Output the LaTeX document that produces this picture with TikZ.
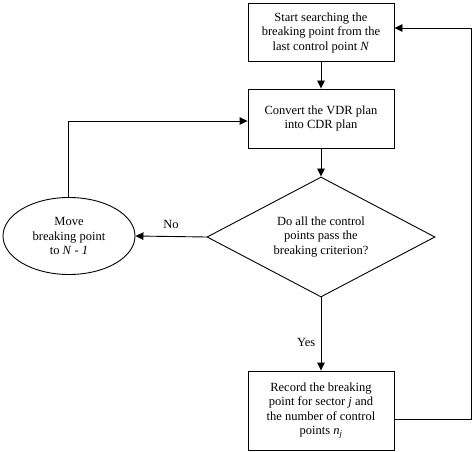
\documentclass[tikz,border=0pt]{standalone}
\usepackage{fontspec}
\setmainfont{Liberation Serif}
\usetikzlibrary{arrows.meta,shapes.geometric}
\begin{document}
\begin{tikzpicture}[x=1pt,y=-1pt,
  every node/.style={font=\fontsize{12.5}{14.5}\selectfont},
  procbox/.style={draw,line width=0.9pt,minimum width=146pt,align=center,inner sep=0pt},
  decision/.style={draw,line width=0.9pt,diamond,aspect=1.9,minimum width=228pt,minimum height=120pt,align=center,inner sep=0pt},
  oval/.style={draw,line width=0.9pt,ellipse,minimum width=132pt,minimum height=77pt,align=center,inner sep=0pt},
  arr/.style={line width=0.9pt,-{Triangle[length=8pt,width=7.5pt]}}]
\useasboundingbox (0,0) rectangle (474,452);
\node[procbox,minimum height=58pt] (start) at (321,32.5) {Start searching the\\breaking point from the\\last control point \textit{N}};
\node[procbox,minimum height=59pt] (conv) at (321,118.5) {Convert the VDR plan\\into CDR plan};
\node[decision] (dec) at (321,237) {Do all the control\\points pass the\\breaking criterion?};
\node[oval] (move) at (69,236) {Move\\breaking point\\to \textit{N} - \textit{1}};
\node[procbox,minimum height=79pt] (rec) at (321,410.5) {Record the breaking\\point for sector \textit{j} and\\the number of control\\points \textit{n}$_{\mathit{j}}$};
\coordinate (c1) at (68,121);
\coordinate (c2) at (471,419);
\coordinate (c3) at (471,28);
\draw[arr] (start) -- (conv);
\draw[arr] (conv) -- (dec);
\draw[arr] (dec.west) -- node[above=4pt] {No} (move.east);
\draw[arr] (dec.south) -- node[pos=0.62,left=2pt] {Yes} (rec.north);
\draw[arr] (move.north -| c1) -- (c1) -- (c1 -| conv.west);
\draw[arr] (rec.east |- c2) -- (c2) -- (c3) -- (c3 -| start.east);
\end{tikzpicture}
\end{document}
